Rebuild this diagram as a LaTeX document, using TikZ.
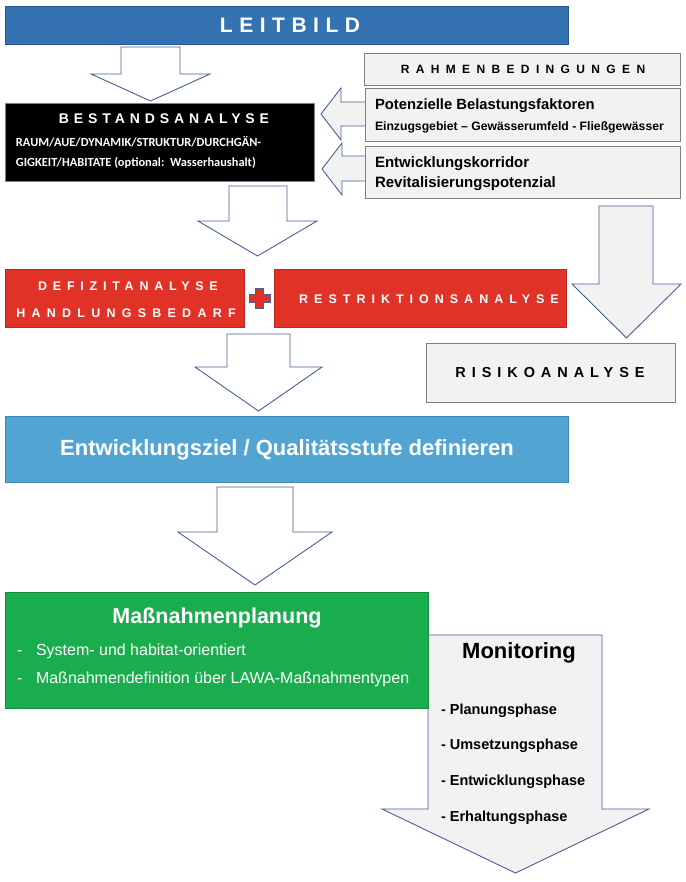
\documentclass[tikz,border=0pt]{standalone}
\usepackage{fontspec}
\setmainfont{Liberation Sans}
\newfontfamily\calfont{Carlito}
\definecolor{leitblue}{RGB}{52,114,178}
\definecolor{leitborder}{RGB}{40,90,145}
\definecolor{zielblue}{RGB}{82,165,211}
\definecolor{zielborder}{RGB}{65,135,180}
\definecolor{redbox}{RGB}{224,50,38}
\definecolor{redborder}{RGB}{185,40,30}
\definecolor{greenbox}{RGB}{26,173,78}
\definecolor{greenborder}{RGB}{20,140,60}
\definecolor{arrowc}{RGB}{72,96,150}
\definecolor{boxgray}{RGB}{242,242,242}
\definecolor{boxborder}{RGB}{128,128,128}
\newcommand\fs[1]{\fontsize{#1}{#1}\selectfont}
\newcommand\downshape[9]{%
  \draw[#1] (#2,#6) -- (#3,#6) -- (#3,#7) -- (#5,#7) -- (#8,#9) -- (#4,#7) -- (#2,#7) -- cycle;}
\tikzset{
  arrowline/.style={draw=arrowc, line width=0.9pt, line join=miter},
  whitearrow/.style={arrowline, fill=white},
  grayarrow/.style={arrowline, fill=boxgray},
  graybox/.style={draw=boxborder, fill=boxgray, line width=0.8pt},
  lbl/.style={inner sep=0pt, outer sep=0pt},
}
\begin{document}
\begin{tikzpicture}[x=1pt,y=-1pt]
\useasboundingbox[fill=white] (0,0) rectangle (685,882);

% ---- block arrows (drawn first, boxes on top)
\downshape{whitearrow}{121}{180}{91}{210}{47}{74}{150.5}{101}
\downshape{whitearrow}{229}{287}{198}{317}{186}{221}{257.5}{256}
\downshape{whitearrow}{227}{290}{195}{322}{334}{367}{258.5}{411}
\downshape{whitearrow}{217}{293}{178}{332}{487}{532}{255}{585}
\downshape{grayarrow}{599}{653}{572}{681}{206}{284}{626.5}{338}
\downshape{grayarrow}{428}{602}{382}{649}{635}{809}{515.5}{873}
% left arrows
\draw[grayarrow] (368,102) -- (341,102) -- (341,88) -- (321,114) -- (341,140) -- (341,126) -- (368,126) -- cycle;
\draw[grayarrow] (368,156) -- (342,156) -- (342,143) -- (322,169) -- (342,195) -- (342,181) -- (368,181) -- cycle;

% ---- boxes
\draw[fill=leitblue, draw=leitborder, line width=0.6pt] (5,6) rectangle (568,44);
\draw[fill=black, draw=gray, line width=0.6pt] (5,103) rectangle (314,181);
\draw[graybox] (364,53) rectangle (680,85);
\draw[graybox] (365,88) rectangle (680,141);
\draw[graybox] (365,146) rectangle (680,198);
\draw[fill=redbox, draw=redborder, line width=0.6pt] (5,269) rectangle (244,327);
\draw[fill=redbox, draw=redborder, line width=0.6pt] (274,269) rectangle (566,327);
\draw[graybox] (426,343) rectangle (675,402);
\draw[fill=zielblue, draw=zielborder, line width=0.6pt] (5,416) rectangle (568,482);
\draw[fill=greenbox, draw=greenborder, line width=0.6pt] (5,592) rectangle (428,708);

% plus sign
\draw[fill=redbox, draw=arrowc, line width=0.8pt]
  (255.5,288) -- (263.5,288) -- (263.5,294) -- (270,294) -- (270,302) -- (263.5,302) -- (263.5,308)
  -- (255.5,308) -- (255.5,302) -- (249,302) -- (249,294) -- (255.5,294) -- cycle;

% ---- texts
\node[lbl, text=white, font=\fs{21}\bfseries\addfontfeatures{LetterSpace=31}] (leit) at (290,25) {LEITBILD};

\node[lbl, text=white, font=\fs{14}\bfseries\addfontfeatures{LetterSpace=35}] (bestand) at (164,119) {BESTANDSANALYSE};
\node[lbl, text=white, anchor=west, font=\calfont\fs{12.4}\bfseries] (b1) at (16,142) {RAUM/AUE/DYNAMIK/STRUKTUR/DURCHGÄN-};
\node[lbl, text=white, anchor=west, font=\calfont\fs{12.4}\bfseries] (b2) at (16,163) {GIGKEIT/HABITATE (optional:\ \ Wasserhaushalt)};

\node[lbl, text=black, font=\fs{12}\bfseries\addfontfeatures{LetterSpace=53}] (rahmen) at (523,69) {RAHMENBEDINGUNGEN};
\node[lbl, text=black, anchor=base west, font=\fs{14.8}\bfseries] (pot1) at (375,110) {Potenzielle Belastungsfaktoren};
\node[lbl, text=black, anchor=base west, font=\fs{12.2}\bfseries] (pot2) at (375,131) {Einzugsgebiet – Gewässerumfeld - Fließgewässer};
\node[lbl, text=black, anchor=base west, font=\fs{15}\bfseries] (ent1) at (375,168) {Entwicklungskorridor};
\node[lbl, text=black, anchor=base west, font=\fs{15}\bfseries] (ent2) at (375,188) {Revitalisierungspotenzial};

\node[lbl, text=white, font=\fs{12.5}\bfseries\addfontfeatures{LetterSpace=46}] (def1) at (128,286) {DEFIZITANALYSE};
\node[lbl, text=white, font=\fs{12.5}\bfseries\addfontfeatures{LetterSpace=50}] (def2) at (126,313) {HANDLUNGSBEDARF};
\node[lbl, text=white, font=\fs{12.5}\bfseries\addfontfeatures{LetterSpace=48}] (restr) at (429,299) {RESTRIKTIONSANALYSE};

\node[lbl, text=black, font=\fs{14.5}\bfseries\addfontfeatures{LetterSpace=41}] (risiko) at (550,373) {RISIKOANALYSE};

\node[lbl, text=white, font=\fs{22}\bfseries] (ziel) at (287,450) {Entwicklungsziel / Qualitätsstufe definieren};

\node[lbl, text=white, font=\fs{21.5}\bfseries] (massn) at (217,618) {Maßnahmenplanung};
\node[lbl, text=white, anchor=base west, font=\fs{16}] (d1) at (17,655) {-};
\node[lbl, text=white, anchor=base west, font=\fs{16}] (m1) at (36,655) {System- und habitat-orientiert};
\node[lbl, text=white, anchor=base west, font=\fs{16}] (d2) at (17,683) {-};
\node[lbl, text=white, anchor=base west, font=\fs{16}] (m2) at (36,683) {Maßnahmendefinition über LAWA-Maßnahmentypen};

\node[lbl, text=black, font=\fs{22}\bfseries] (moni) at (519,653) {Monitoring};
\node[lbl, text=black, anchor=west, font=\fs{14.5}\bfseries] (p1) at (441,711) {- Planungsphase};
\node[lbl, text=black, anchor=west, font=\fs{14.5}\bfseries] (p2) at (441,746) {- Umsetzungsphase};
\node[lbl, text=black, anchor=west, font=\fs{14.5}\bfseries] (p3) at (441,782) {- Entwicklungsphase};
\node[lbl, text=black, anchor=west, font=\fs{14.5}\bfseries] (p4) at (441,818) {- Erhaltungsphase};
\end{tikzpicture}
\end{document}
